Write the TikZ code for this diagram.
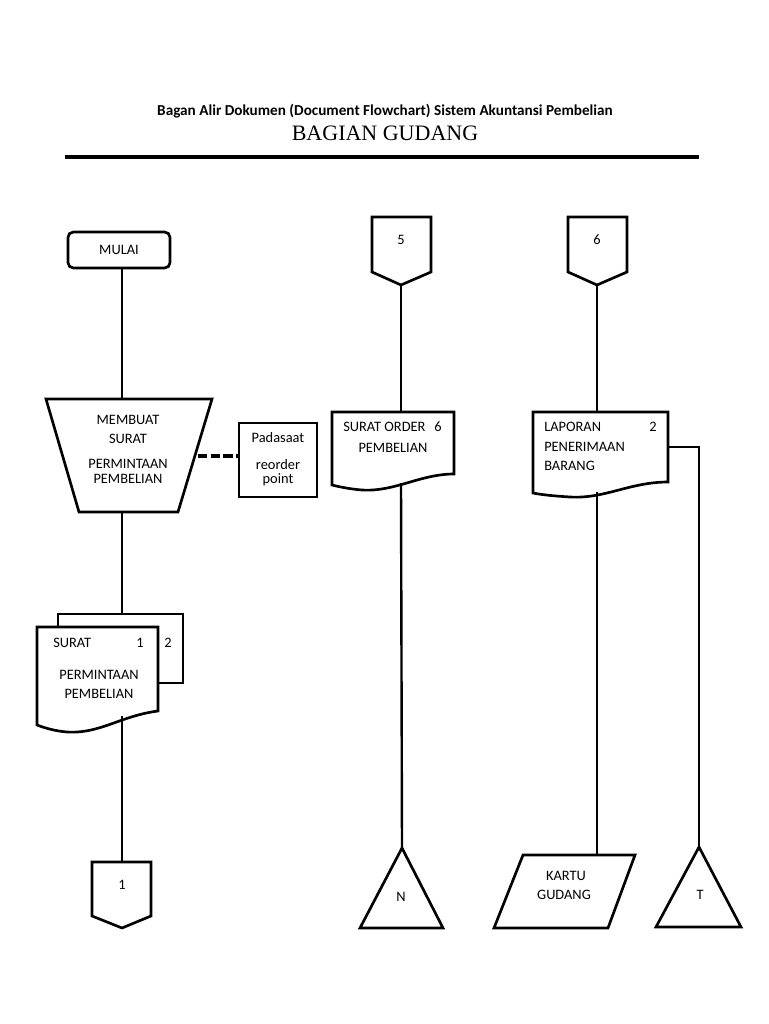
\documentclass[tikz,border=0pt]{standalone}
\usepackage{fontspec}
\setmainfont{Carlito}
\newfontfamily\serifT{Liberation Serif}
\begin{document}
\begin{tikzpicture}[x=0.75pt,y=-0.75pt,
  shp/.style={draw=black,line width=2pt,fill=white,line join=miter},
  conn/.style={draw=black,line width=1.8pt},
  lbl/.style={inner sep=0pt,font=\fontsize{10.8}{12}\selectfont},
  lbll/.style={lbl,anchor=west}]
\useasboundingbox[fill=white] (0,0) rectangle (768,1024);
% titles
\node[inner sep=0pt,font=\fontsize{11.4}{13}\selectfont\bfseries] (t1) at (385,111) {Bagan Alir Dokumen (Document Flowchart) Sistem Akuntansi Pembelian};
\node[inner sep=0pt,font=\serifT\fontsize{16.5}{18}\selectfont] (t2) at (385,133) {BAGIAN GUDANG};
\coordinate (hl) at (65,157); \coordinate (hr) at (699,157);
\draw[line width=3.2pt] (hl) -- (hr);

% ---------- column 1 ----------
\draw[shp,rounded corners=4pt] (68,232) rectangle (170,268);
\node[lbl] (mulai) at (119,250) {MULAI};
\coordinate (mulaiB) at (122,268);

\draw[shp] (46,399) -- (212,399) -- (178,512) -- (79,512) -- cycle;
\coordinate (trapT) at (122,399); \coordinate (trapB) at (122,512); \coordinate (trapR) at (198,456);
\node[lbl] (m1) at (128,420) {MEMBUAT};
\node[lbl] (m2) at (128,439) {SURAT};
\node[lbl] (m3) at (128,464) {PERMINTAAN};
\node[lbl] (m4) at (128,479) {PEMBELIAN};

\draw[shp] (239,423) rectangle (317,497);
\coordinate (padL) at (239,456);
\node[lbl] (p1) at (278,438) {Padasaat};
\node[lbl] (p2) at (278,465) {reorder};
\node[lbl] (p3) at (278,480) {point};

% document stack
\draw[shp,fill=none] (58,627) -- (58,614) -- (183,614) -- (183,683) -- (158,683);
\coordinate (docbackT) at (122,614);
\draw[shp] (37,627) -- (158,627) -- (158,711)
  .. controls (120,716) and (100,734) .. (67,732)
  .. controls (55,731) and (45,728) .. (37,725) -- cycle;
\coordinate (docfrontB) at (122,716);
\node[lbll] (s1) at (53,643) {SURAT};
\node[lbl] (s2) at (140,643) {1};
\node[lbl] (s3) at (168,643) {2};
\node[lbl] (s4) at (99,675) {PERMINTAAN};
\node[lbl] (s5) at (99,694) {PEMBELIAN};

% off-page 1
\draw[shp] (92,862) -- (151,862) -- (151,916) -- (122,928) -- (92,916) -- cycle;
\coordinate (op1T) at (122,862);
\node[lbl] (op1) at (122,885) {1};

\draw[conn] (mulaiB) -- (trapT);
\draw[conn,line width=2.4pt,dash pattern=on 7pt off 2.5pt] (trapR) -- (padL);
\draw[conn] (trapB) -- (docbackT);
\draw[conn] (docfrontB) -- (op1T);

% ---------- column 2 ----------
\draw[shp] (372,217) -- (431,217) -- (431,272) -- (401,285) -- (372,272) -- cycle;
\coordinate (op5B) at (401,285);
\node[lbl] (op5) at (401,240) {5};

\draw[shp] (332,412) -- (454,412) -- (454,474)
  .. controls (420,474) and (395,492) .. (362,490)
  .. controls (350,489) and (340,487) .. (332,485) -- cycle;
\coordinate (sopT) at (401,412); \coordinate (sopB) at (401,483);
\node[lbll] (so1) at (343,427) {SURAT ORDER};
\node[lbl] (so2) at (438,427) {6};
\node[lbl] (so3) at (393,448) {PEMBELIAN};

\draw[shp] (402,848) -- (443,928) -- (360,928) -- cycle;
\coordinate (nT) at (402,848);
\node[lbl] (n) at (401,897) {N};

\draw[conn] (op5B) -- (sopT);
\draw[conn] (sopB) -- (nT);

% ---------- column 3 ----------
\draw[shp] (568,217) -- (627,217) -- (627,272) -- (597,285) -- (568,272) -- cycle;
\coordinate (op6B) at (597,285);
\node[lbl] (op6) at (597,240) {6};

\draw[shp] (533,412) -- (668,412) -- (668,482)
  .. controls (630,482) and (605,499) .. (570,497)
  .. controls (555,496) and (543,495) .. (533,493) -- cycle;
\coordinate (lpT) at (597,412); \coordinate (lpB) at (597,492); \coordinate (lpR) at (668,447);
\node[lbll] (lp1) at (544,427) {LAPORAN};
\node[lbl] (lp2) at (653,427) {2};
\node[lbll] (lp3) at (544,447) {PENERIMAAN};
\node[lbll] (lp4) at (544,466) {BARANG};

\draw[shp] (523,855) -- (635,855) -- (608,928) -- (494,928) -- cycle;
\coordinate (kgT) at (597,855);
\node[lbl] (kg1) at (566,876) {KARTU};
\node[lbl] (kg2) at (564,895) {GUDANG};

\draw[shp] (699,847) -- (741,927) -- (656,927) -- cycle;
\coordinate (tT) at (699,847);
\node[lbl] (t) at (700,895) {T};

\draw[conn] (op6B) -- (lpT);
\draw[conn] (lpB) -- (kgT);
\draw[conn] (lpR) -| (tT);
\end{tikzpicture}
\end{document}
